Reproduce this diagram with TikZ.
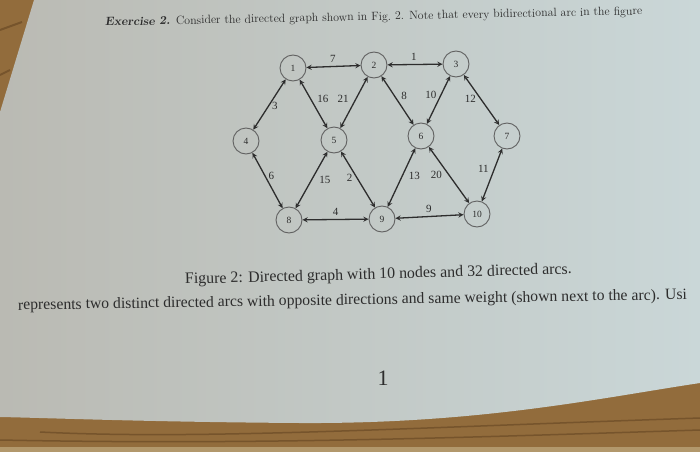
\documentclass[tikz,border=0pt]{standalone}
\usepackage{fontspec}
\newfontfamily\timesfont{Liberation Serif}
\usetikzlibrary{positioning,arrows}

\definecolor{paper}{RGB}{218,219,214}
\definecolor{paperblue}{RGB}{202,215,216}
\definecolor{papershade}{RGB}{186,186,179}
\definecolor{wood}{RGB}{146,108,60}
\definecolor{wooddark}{RGB}{118,84,44}
\definecolor{woodlight}{RGB}{178,152,108}
\definecolor{ink}{RGB}{45,45,45}

\tikzset{
  vertex/.style={circle,draw=ink!75,line width=0.9pt,minimum size=26pt,inner sep=0pt,
    font=\timesfont\fontsize{9.5}{9.5}\selectfont,text=ink},
  arc/.style={<->,>=stealth,line width=1.3pt,draw=ink},
  weight/.style={font=\timesfont\fontsize{11}{11}\selectfont,text=ink,inner sep=1pt}
}

\begin{document}
\begin{tikzpicture}[x=1pt,y=-1pt]
\useasboundingbox (0,0) rectangle (700,452);
% table and sheet
\fill[wood] (0,0) rectangle (700,452);
\draw[wooddark,line width=2pt] (0,30) -- (22,22);
\draw[wooddark,line width=2pt] (0,75) -- (10,70);
\draw[wooddark,line width=1.5pt] (40,432) .. controls (200,440) and (400,428) .. (700,418);
\draw[wooddark,line width=1.5pt] (0,440) .. controls (250,445) and (450,438) .. (700,430);
\fill[woodlight] (0,447) rectangle (700,452);
\shade[left color=papershade,middle color=paper,right color=paperblue]
  (34,0) -- (700,0) -- (700,383) .. controls (600,398) and (480,424) .. (300,423)
  .. controls (150,422) and (50,418) .. (0,417) -- (0,112) -- cycle;

% text of the page
\node[anchor=base west,rotate=1.2,text=ink,inner sep=0pt,font=\fontsize{11.9}{14}\selectfont] (head) at (105,26)
  {{\bfseries\slshape Exercise 2.}\enspace Consider the directed graph shown in Fig.~2. Note that every bidirectional arc in the figure};

% the graph
\node[vertex] (n1) at (293,68) {1};
\node[vertex] (n2) at (374,65) {2};
\node[vertex] (n3) at (456,64) {3};
\node[vertex] (n4) at (246,141) {4};
\node[vertex] (n5) at (334,140) {5};
\node[vertex] (n6) at (421,136) {6};
\node[vertex] (n7) at (507,136) {7};
\node[vertex] (n8) at (289,220) {8};
\node[vertex] (n9) at (382,219) {9};
\node[vertex] (n10) at (477,214) {10};

\draw[arc] (n1) -- (n2) node[weight,pos=0.49,above=2pt] {7};
\draw[arc] (n2) -- (n3) node[weight,pos=0.48,above=2pt] {1};
\draw[arc] (n1) -- (n4) node[weight,pos=0.53,right=2pt] {3};
\draw[arc] (n1) -- (n5) node[weight,pos=0.40,right=5pt] {16};
\draw[arc] (n2) -- (n5) node[weight,pos=0.42,left=6pt] {21};
\draw[arc] (n2) -- (n6) node[weight,pos=0.41,right=5pt] {8};
\draw[arc] (n3) -- (n6) node[weight,pos=0.39,left=3pt] {10};
\draw[arc] (n3) -- (n7) node[weight,pos=0.47,left=3pt] {12};
\draw[arc] (n4) -- (n8) node[weight,pos=0.42,right=2pt] {6};
\draw[arc] (n5) -- (n8) node[weight,pos=0.49,right=6pt] {15};
\draw[arc] (n5) -- (n9) node[weight,pos=0.47,left=3pt] {2};
\draw[arc] (n6) -- (n9) node[weight,pos=0.47,right=5pt] {13};
\draw[arc] (n6) -- (n10) node[weight,pos=0.49,left=5pt] {20};
\draw[arc] (n7) -- (n10) node[weight,pos=0.39,left=4pt] {11};
\draw[arc] (n8) -- (n9) node[weight,pos=0.5,above=2pt] {4};
\draw[arc] (n9) -- (n10) node[weight,pos=0.49,above=2pt] {9};

\node[anchor=base west,rotate=1.5,text=ink,inner sep=0pt,font=\timesfont\fontsize{15.9}{18}\selectfont] (caption) at (185,284)
  {Figure 2: Directed graph with 10 nodes and 32 directed arcs.};
\node[anchor=base west,rotate=0.9,text=ink,inner sep=0pt,font=\timesfont\fontsize{15.7}{18}\selectfont] (line) at (18,310)
  {represents two distinct directed arcs with opposite directions and same weight (shown next to the arc). Usi};
\node[text=ink,font=\timesfont\fontsize{22}{22}\selectfont] (page) at (383,378) {1};
\end{tikzpicture}
\end{document}
